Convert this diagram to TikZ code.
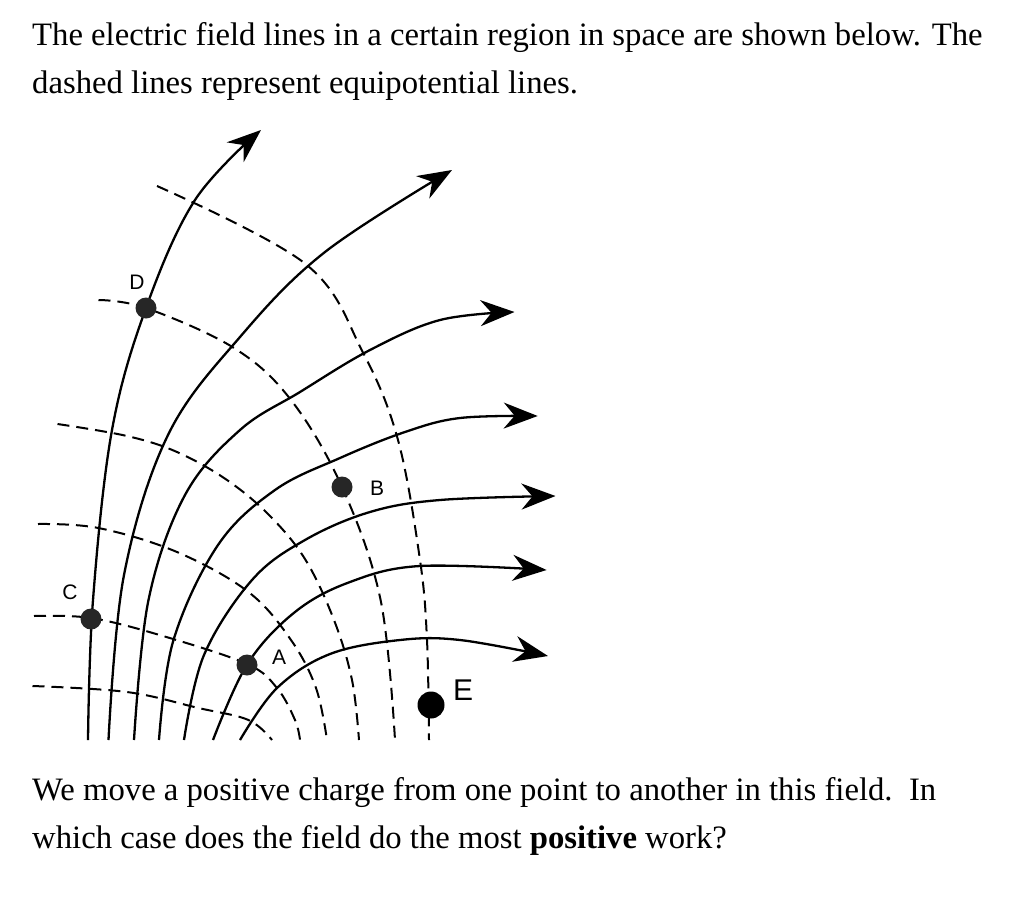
\documentclass[tikz,border=0pt]{standalone}
\usepackage{fontspec}
\setmainfont{Liberation Serif}
\setsansfont{Liberation Sans}
\usetikzlibrary{arrows.meta}
\begin{document}
\begin{tikzpicture}[x=1pt,y=-1pt,
  field/.style={line width=2.3pt,-{Stealth[length=34pt,width=26pt,inset=11pt]}},
  equi/.style={line width=2pt,dash pattern=on 12pt off 7pt},
  dot/.style={circle,fill=black!85,inner sep=0pt,minimum size=21pt},
  lab/.style={font=\sffamily\fontsize{21}{21}\selectfont},
  txt/.style={anchor=west,inner sep=0pt,font=\fontsize{32.7}{32.7}\selectfont}]
\useasboundingbox (0,0) rectangle (1024,897);
\node[txt] (t1) at (32,38) {The electric field lines in a certain region in space are shown below. The};
\node[txt] (t2) at (32,86) {dashed lines represent equipotential lines.};
\node[txt] (t3) at (32,793) {We move a positive charge from one point to another in this field.\ \ In};
\node[txt] (t4) at (32,840) {which case does the field do the most \textbf{positive} work?};
% field lines
\draw[field] plot[smooth,tension=0.6] coordinates {(88,740) (93,600) (112,430) (146,308) (195,200) (261,130)};
\draw[field] plot[smooth,tension=0.6] coordinates {(108.5,740) (124,575) (168,435) (240,337) (325,252) (452,170)};
\draw[field] plot[smooth,tension=0.6] coordinates {(134,740) (148.5,600) (185,495) (240,430) (300,392) (370,350) (440,320) (514.5,312)};
\draw[field] plot[smooth,tension=0.6] coordinates {(159,740) (173.5,640) (218,545) (275,490) (340,458) (405,432) (460,418) (537.7,416)};
\draw[field] plot[smooth,tension=0.6] coordinates {(184,740) (204,655) (252,580) (305,540) (370,512) (440,500) (555.5,496)};
\draw[field] plot[smooth,tension=0.6] coordinates {(213,740) (247.4,664) (295,612) (350,582) (420,566) (546.6,570)};
\draw[field] plot[smooth,tension=0.6] coordinates {(240,740) (277,688) (330,654) (400,640) (460,640) (548,656)};
% equipotentials
\draw[equi] plot[smooth,tension=0.6] coordinates {(157,186) (305.6,264) (362.7,352) (398,440) (420,560) (427,640) (429,740)};
\draw[equi] plot[smooth,tension=0.6] coordinates {(98.5,300) (146,308) (234,348) (291,400) (342,487) (380.6,600) (395,740)};
\draw[equi] plot[smooth,tension=0.6] coordinates {(57.5,424) (127,436) (177,452) (227,480) (270,516) (305.6,560) (334,620) (352,680) (359,740)};
\draw[equi] plot[smooth,tension=0.6] coordinates {(38,524) (98.5,528) (177,552) (248.5,592) (291,640) (316,688) (327,740)};
\draw[equi] plot[smooth,tension=0.6] coordinates {(34,616) (91,618) (163,636) (247,664) (277,688) (295,720) (300,740)};
\draw[equi] plot[smooth,tension=0.6] coordinates {(32.5,686) (127,692) (198.5,708) (248.5,720) (272,740)};
% points
\node[dot] (D) at (146,308) {};
\node[dot] (B) at (342,487) {};
\node[dot] (C) at (91,619) {};
\node[dot] (A) at (247,665) {};
\node[circle,fill=black,inner sep=0pt,minimum width=25pt,minimum height=27pt] (E) at (431,705) {};
\node[lab] (lD) at (137,282) {D};
\node[lab] (lB) at (377,488) {B};
\node[lab] (lC) at (70,592) {C};
\node[lab] (lA) at (279,657) {A};
\node[font=\sffamily\fontsize{30}{30}\selectfont] (lE) at (463,690) {E};
\end{tikzpicture}
\end{document}
